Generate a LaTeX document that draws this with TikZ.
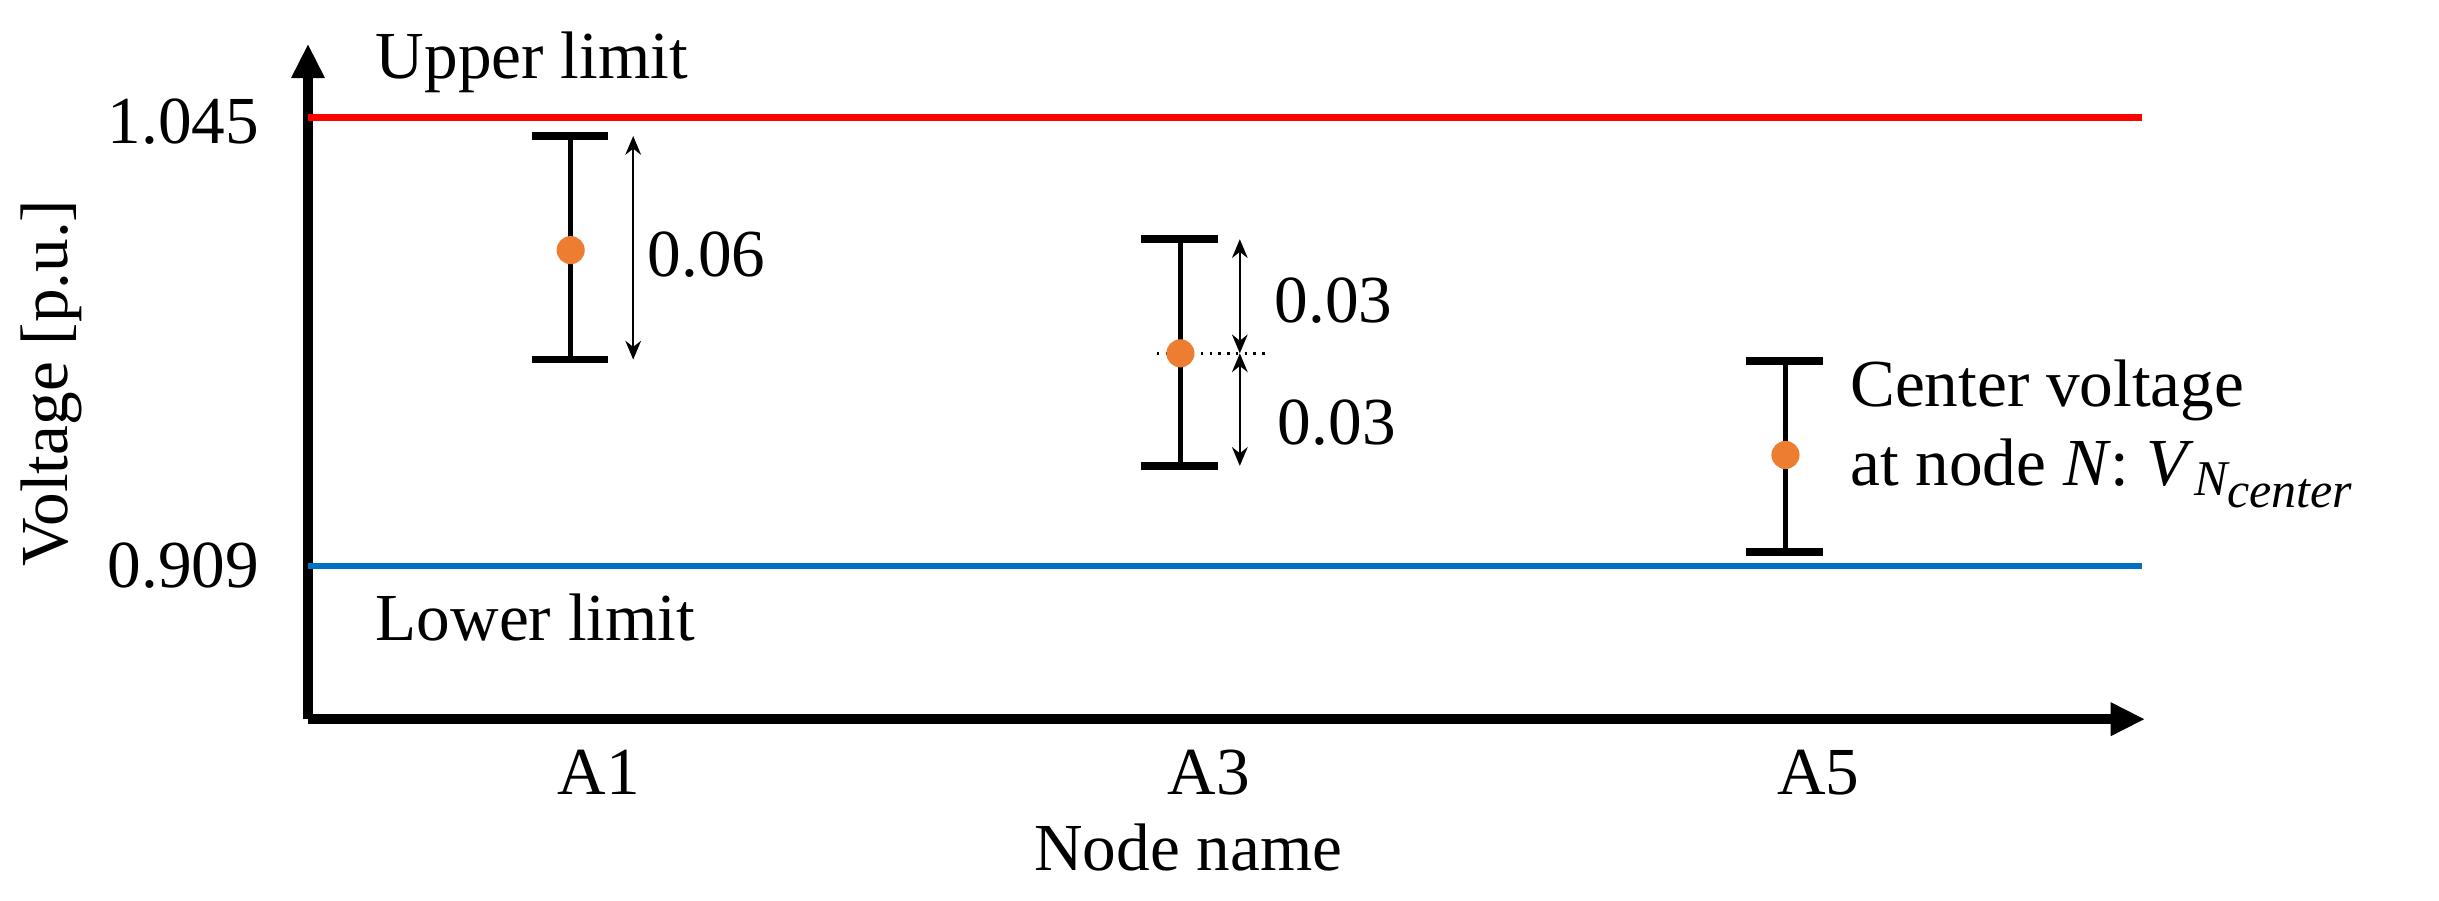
\documentclass[tikz,border=0pt]{standalone}
\usepackage{fontspec}
\setmainfont{Liberation Serif}
\usetikzlibrary{arrows.meta}
\definecolor{lowblue}{RGB}{0,112,192}
\definecolor{dotorange}{RGB}{237,125,49}
\begin{document}
\begin{tikzpicture}[x=0.5pt,y=-0.5pt,
  lbl/.style={font=\fontsize{21.5}{23}\selectfont,inner sep=0pt},
  bar/.style={line width=1.7pt},
  ebcap/.style={line width=2.4pt},
  dim/.style={line width=0.8pt,{Stealth[length=6pt,width=5pt]}-{Stealth[length=6pt,width=5pt]}},
  dot/.style={circle,fill=dotorange,inner sep=0pt,minimum size=9pt}]
\useasboundingbox (0,0) rectangle (1560,576);
% axes
\coordinate (O) at (197,460);
\coordinate (Ytop) at (197,28);
\coordinate (Xend) at (1372,460);
\draw[line width=3pt,-{Triangle[length=11pt,width=10pt]}] (O) -- (Ytop);
\draw[line width=3pt,-{Triangle[length=11pt,width=10pt]}] (O) -- (Xend);
% limits
\coordinate (u0) at (197,75); \coordinate (u1) at (1370,75);
\coordinate (l0) at (197,362); \coordinate (l1) at (1370,362);
\draw[red,line width=2.2pt] (u0) -- (u1);
\draw[lowblue,line width=2.2pt] (l0) -- (l1);
\node[lbl,anchor=west] (ul) at (240,40) {Upper limit};
\node[lbl,anchor=west] (ll) at (240,395) {Lower limit};
\node[lbl,anchor=east] (t1) at (166,78) {1.045};
\node[lbl,anchor=east] (t2) at (166,362) {0.909};
\node[lbl,rotate=90] (yl) at (33,245) {Voltage [p.u.]};
% A1
\coordinate (a1t) at (365,87); \coordinate (a1b) at (365,230);
\draw[bar] (a1t) -- (a1b);
\draw[ebcap] (340,87) -- (389,87); \draw[ebcap] (340,230) -- (389,230);
\node[dot] (d1) at (365,160) {};
\coordinate (m1t) at (405,87); \coordinate (m1b) at (405,230);
\draw[dim] (m1t) -- (m1b);
\node[lbl,anchor=west] (v1) at (414,163) {0.06};
% A3
\coordinate (a3t) at (755,153); \coordinate (a3b) at (755,298);
\draw[bar] (a3t) -- (a3b);
\draw[ebcap] (730,153) -- (779,153); \draw[ebcap] (730,298) -- (779,298);
\draw[dotted,line width=0.8pt] (740,226) -- (812,226);
\node[dot] (d3) at (755,226) {};
\coordinate (m3t) at (793,153); \coordinate (m3c) at (793,226); \coordinate (m3b) at (793,298);
\draw[dim] (m3t) -- (m3c);
\draw[dim] (m3c) -- (m3b);
\node[lbl,anchor=west] (v3a) at (815,192) {0.03};
\node[lbl,anchor=west] (v3b) at (817,270) {0.03};
% A5
\coordinate (a5t) at (1142,231); \coordinate (a5b) at (1142,353);
\draw[bar] (a5t) -- (a5b);
\draw[ebcap] (1117,231) -- (1166,231); \draw[ebcap] (1117,353) -- (1166,353);
\node[dot] (d5) at (1142,291) {};
\node[lbl,anchor=west] (c1) at (1183,250) {Center voltage};
\node[lbl,anchor=west] (c2) at (1183,303) {at node \textit{N}: \textit{V}\raisebox{-0.3ex}{\fontsize{16}{17}\selectfont\itshape N}\raisebox{-0.7ex}{\fontsize{16}{17}\selectfont\itshape center}};
% categories
\node[lbl] (x1) at (383,494) {A1};
\node[lbl] (x3) at (773,494) {A3};
\node[lbl] (x5) at (1163,494) {A5};
\node[lbl] (xl) at (760,542) {Node name};
\end{tikzpicture}
\end{document}
